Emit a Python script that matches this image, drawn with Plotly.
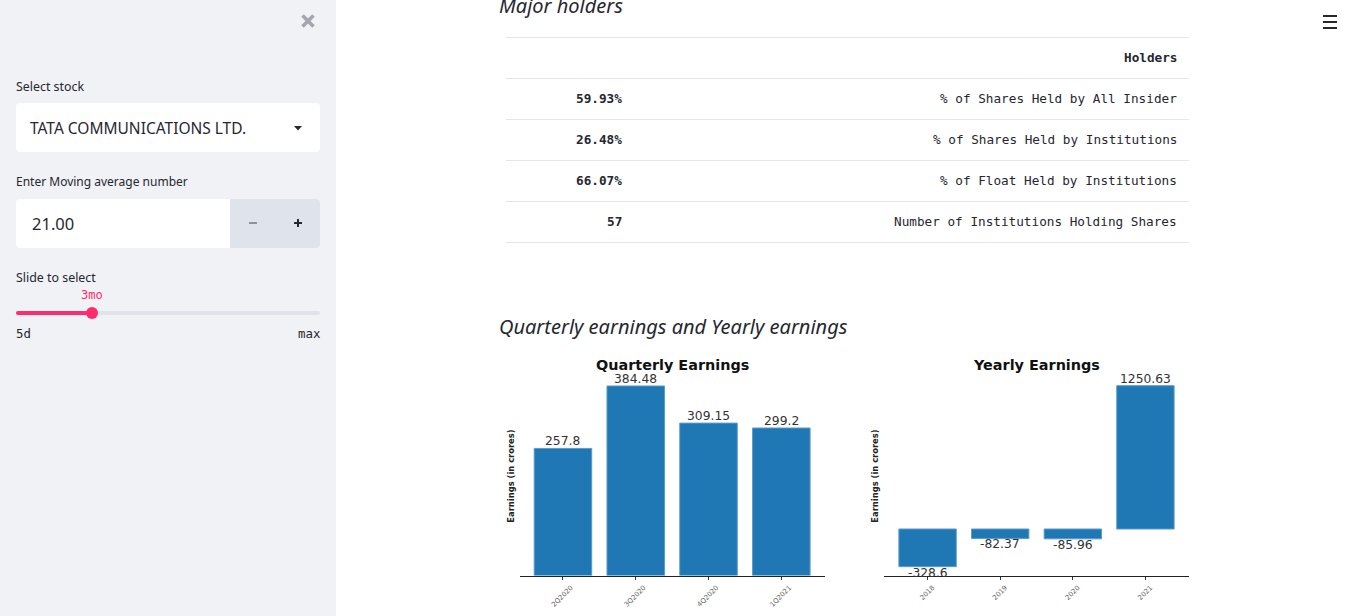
import plotly.graph_objects as go

W = 1360
H = 616

# chart data
quarters = ["2Q2020", "3Q2020", "4Q2020", "1Q2021"]
quarter_earnings = [257.8, 384.48, 309.15, 299.2]
quarter_labels = ["257.8", "384.48", "309.15", "299.2"]
years = ["2018", "2019", "2020", "2021"]
year_earnings = [-328.6, -82.37, -85.96, 1250.63]
year_labels = ["-328.6", "-82.37", "-85.96", "1250.63"]

# holders table
holder_header = "Holders"
holder_values = ["59.93%", "26.48%", "66.07%", "57"]
holder_names = [
    "% of Shares Held by All Insider",
    "% of Shares Held by Institutions",
    "% of Float Held by Institutions",
    "Number of Institutions Holding Shares",
]

SANS = "Noto Sans, Open Sans, sans-serif"
MONO = "DejaVu Sans Mono, monospace"
PLOT = "DejaVu Sans, sans-serif"
BLUE = "#1f77b4"
INK = "#262730"


def px(x):
    return x / W


def py(y):
    return 1 - y / H


def rect(x0, y0, x1, y1, color):
    return dict(type="rect", xref="paper", yref="paper", x0=px(x0), x1=px(x1),
                y0=py(y0), y1=py(y1), fillcolor=color, line_width=0, layer="below")


def line(x0, y0, x1, y1, color, width=1):
    return dict(type="line", xref="paper", yref="paper", x0=px(x0), x1=px(x1),
                y0=py(y0), y1=py(y1), line=dict(color=color, width=width))


def round_rect(x0, y0, x1, y1, color, r=4):
    # rounded box, the streamlit widgets have small radius
    p = (f"M {px(x0 + r)} {py(y0)} L {px(x1 - r)} {py(y0)} Q {px(x1)} {py(y0)} {px(x1)} {py(y0 + r)} "
         f"L {px(x1)} {py(y1 - r)} Q {px(x1)} {py(y1)} {px(x1 - r)} {py(y1)} "
         f"L {px(x0 + r)} {py(y1)} Q {px(x0)} {py(y1)} {px(x0)} {py(y1 - r)} "
         f"L {px(x0)} {py(y0 + r)} Q {px(x0)} {py(y0)} {px(x0 + r)} {py(y0)} Z")
    return dict(type="path", xref="paper", yref="paper", path=p, fillcolor=color, line_width=0, layer="below")


def text(x, y, s, size=12, color=INK, family=SANS, anchor="left", **kw):
    return dict(x=px(x), y=py(y), xref="paper", yref="paper", text=s, showarrow=False,
                xanchor=anchor, yanchor="middle", borderpad=0, borderwidth=0,
                font=dict(size=size, color=color, family=family, **kw))


def bar_labels(values, labels, xref, yref):
    # value labels sit right against the bar end, plotly's own outside text is too far off
    # x is the category index, "2018" as a string gets read as a number otherwise
    out = []
    for i, (v, s) in enumerate(zip(values, labels)):
        out.append(dict(x=i, y=v, xref=xref, yref=yref, text=s, showarrow=False,
                        yanchor="middle", yshift=7 if v > 0 else -6, borderpad=0, borderwidth=0,
                        font=dict(family=PLOT, size=12.3, color="#333333")))
    return out


fig = go.Figure()

fig.add_trace(go.Bar(
    x=quarters, y=quarter_earnings, cliponaxis=False, width=0.79,
    marker=dict(color=BLUE, line=dict(color="#5b9bc9", width=1)), xaxis="x", yaxis="y",
))
fig.add_trace(go.Bar(
    x=years, y=year_earnings, cliponaxis=False, width=0.79,
    marker=dict(color=BLUE, line=dict(color="#5b9bc9", width=1)), xaxis="x2", yaxis="y2",
))

shapes = [
    rect(0, 0, 336, H, "#f0f2f6"),
    round_rect(16, 103, 320, 152, "#ffffff"),
    round_rect(16, 199, 320, 248, "#ffffff"),
    round_rect(230, 199, 320, 248, "#dfe3eb"),
    rect(230, 199, 240, 248, "#dfe3eb"),
    round_rect(16, 311, 320, 315, "#e0e4ea", r=2),
    round_rect(16, 311, 92, 315, "#ff2b6b", r=2),
    dict(type="circle", xref="paper", yref="paper", x0=px(86), x1=px(98), y0=py(307), y1=py(319),
         fillcolor="#ff2b6b", line_width=0),
    # close cross
    line(302.5, 15.5, 313.5, 26.5, "#a3a6ad", 3.5),
    line(302.5, 26.5, 313.5, 15.5, "#a3a6ad", 3.5),
    # dropdown arrow
    dict(type="path", xref="paper", yref="paper", fillcolor=INK, line_width=0,
         path=f"M {px(294)} {py(126)} L {px(302)} {py(126)} L {px(298)} {py(130.5)} Z"),
    # stepper
    line(249, 223, 257, 223, "#8d929c", 2),
    line(294, 223, 302, 223, INK, 2),
    line(298, 219, 298, 227, INK, 2),
    # hamburger
    line(1323, 16, 1337, 16, INK, 2),
    line(1323, 22, 1337, 22, INK, 2),
    line(1323, 28, 1337, 28, INK, 2),
]

annotations = [
    text(16, 86.5, "Select stock", 12.4),
    text(30, 128, "TATA COMMUNICATIONS LTD.", 15.5),
    text(16, 181.5, "Enter Moving average number", 12),
    text(32, 223.5, "21.00", 16.5),
    text(16, 277.5, "Slide to select", 12.4),
    text(92, 295, "3mo", 12, "#ff2b6b", MONO, anchor="center"),
    text(16, 333, "5d", 12.4, INK, MONO),
    text(320, 333, "max", 12.4, INK, MONO, anchor="right"),
    text(499, 6, "Major holders", 20, INK, SANS, style="italic"),
    text(499, 326, "Quarterly earnings and Yearly earnings", 20, INK, SANS, style="italic"),
    text(1177, 58, holder_header, 12.7, INK, MONO, anchor="right", weight="bold"),
    text(672.5, 364.5, "Quarterly Earnings", 14.4, "#111111", PLOT, anchor="center", weight="bold"),
    text(1036.5, 364.5, "Yearly Earnings", 14.4, "#111111", PLOT, anchor="center", weight="bold"),
]

# table rows and rules
row_top = 37.5
row_h = 41
for i in range(6):
    shapes.append(line(506, row_top + i * row_h, 1189, row_top + i * row_h, "#e6e6e9", 1))
for i, (v, n) in enumerate(zip(holder_values, holder_names)):
    y = 98.6 + i * row_h
    annotations.append(text(622, y, v, 12.7, INK, MONO, anchor="right", weight="bold"))
    annotations.append(text(1177, y, n, 12.7, INK, MONO, anchor="right"))

annotations += bar_labels(quarter_earnings, quarter_labels, "x", "y")
annotations += bar_labels(year_earnings, year_labels, "x2", "y2")

x_common = dict(
    showgrid=False, zeroline=False, showline=True, linecolor="#222222", linewidth=1,
    ticks="outside", ticklen=3.5, tickwidth=1, tickcolor="#333333", tickangle=-45,
    ticklabelstandoff=1,
    tickfont=dict(family=PLOT, size=6.8, color="#666666"), type="category",
)
y_common = dict(
    showgrid=False, zeroline=False, showline=False, showticklabels=False, ticks="",
    title=dict(text="<b>Earnings (in crores)</b>", standoff=3,
               font=dict(family=PLOT, size=8.4, color="#222222")),
)

fig.update_layout(
    width=W, height=H, margin=dict(l=0, r=0, t=0, b=0),
    paper_bgcolor="#ffffff", plot_bgcolor="rgba(0,0,0,0)",
    showlegend=False, bargap=0.2,
    shapes=shapes, annotations=annotations,
    xaxis=dict(domain=[px(520), px(825)], anchor="y", range=[-0.59, 3.6], ticklabelshift=8, **x_common),
    yaxis=dict(domain=[py(575.5), py(376.5)], anchor="x", range=[0, 403.7], **y_common),
    xaxis2=dict(domain=[px(884), px(1189)], anchor="y2", range=[-0.6, 3.6], ticklabelshift=5, **x_common),
    yaxis2=dict(domain=[py(575.5), py(376.5)], anchor="x2", range=[-405.8, 1330.8], **y_common),
)

fig.write_html("out.html", post_script="document.body.style.margin='0';",
               config=dict(displayModeBar=False))
